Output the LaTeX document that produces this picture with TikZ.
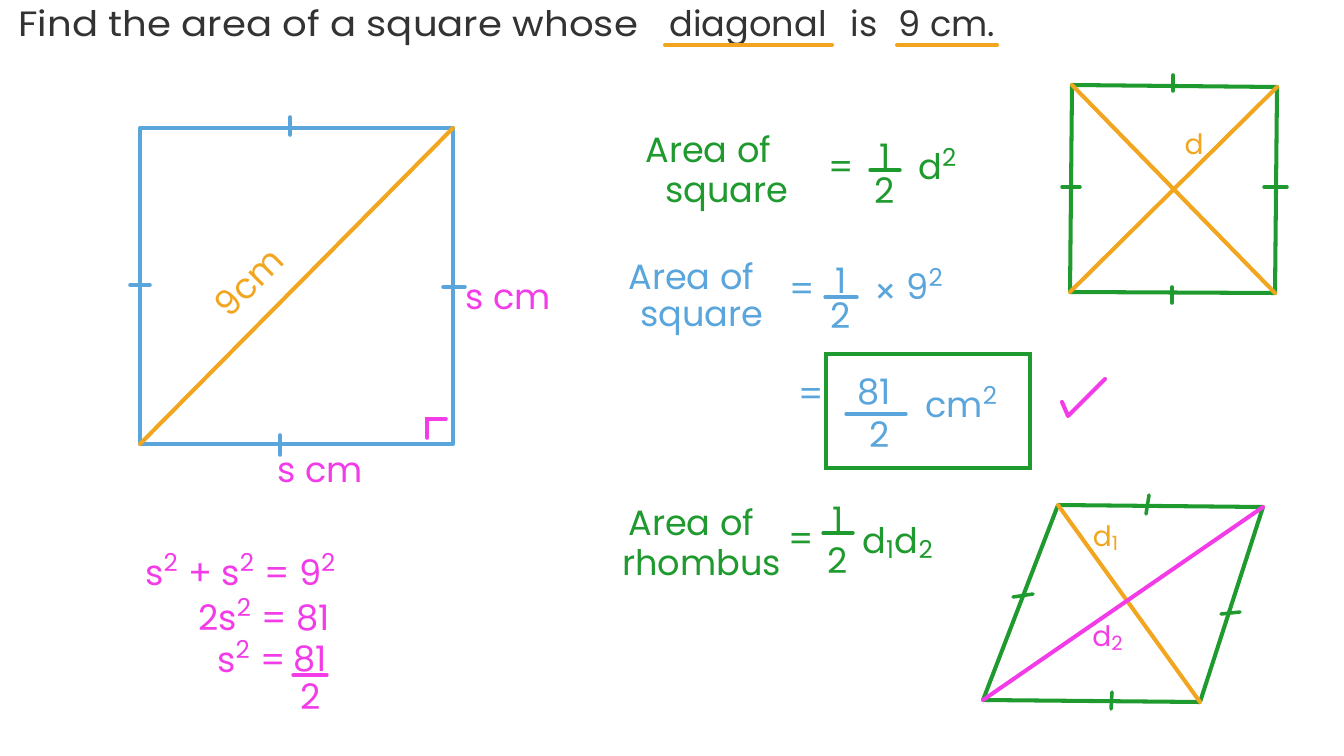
\documentclass[tikz,border=0pt]{standalone}
\usepackage{fontspec}
\setmainfont{Poppins}
\definecolor{ink}{HTML}{333333}
\definecolor{org}{HTML}{F2A51E}
\definecolor{blu}{HTML}{5AA5DC}
\definecolor{grn}{HTML}{1F9A2E}
\definecolor{mag}{HTML}{F23CE8}
\begin{document}
\begin{tikzpicture}[x=0.02cm,y=-0.02cm,
  hand/.style={line width=2.3pt,line cap=round,line join=round},
  tick/.style={line width=2pt,line cap=round},
  fbar/.style={line width=1.9pt,line cap=round},
  txt/.style={inner sep=0pt,font=\fontsize{20}{24}\selectfont},
  small/.style={inner sep=0pt,font=\fontsize{16}{19}\selectfont}]
\useasboundingbox[fill=white] (0,0) rectangle (1344,756);

% ---------- title ----------
\node[txt,text=ink,anchor=base west] (t1) at (18,37) {\scalebox{1.1}[1]{Find the area of a square whose}};
\node[txt,text=ink,anchor=base] (t2) at (748,37) {diagonal};
\node[txt,text=ink,anchor=base] (t3) at (864,37) {is};
\node[txt,text=ink,anchor=base] (t4) at (947,37) {9 cm.};
\coordinate (u1a) at (665,45); \coordinate (u1b) at (832,45);
\coordinate (u2a) at (897,45); \coordinate (u2b) at (997,45);
\draw[hand,org] (u1a) -- (u1b);
\draw[hand,org] (u2a) -- (u2b);

% ---------- left square ----------
\coordinate (A) at (140,444); \coordinate (B) at (453,444);
\coordinate (C) at (453,128); \coordinate (D) at (140,128);
\draw[hand,blu] (A) -- (B) -- (C) -- (D) -- cycle;
\draw[tick,blu] (290,117) -- (290,135);
\draw[tick,blu] (130,285) -- (150,285);
\draw[tick,blu] (443,287) -- (465,287);
\draw[tick,blu] (280,435) -- (280,455);
\draw[hand,org] (A) -- (C);
\node[txt,text=org,rotate=45] (nine) at (249,282) {9cm};
\node[txt,text=mag] (sr) at (508,300) {s cm};
\node[txt,text=mag] (sb) at (320,473) {s cm};
\draw[tick,mag] (427,438) -- (427,419) -- (446,419);

% ---------- left equations ----------
\node[txt,text=mag,anchor=base west] (e1) at (145,585) {s\textsuperscript{2} + s\textsuperscript{2} = 9\textsuperscript{2}};
\node[txt,text=mag,anchor=base west] (e2) at (198,630) {2s\textsuperscript{2} = 81};
\node[txt,text=mag,anchor=base west] (e3) at (217,672) {s\textsuperscript{2} =};
\node[txt,text=mag] (e3n) at (310,659) {81};
\draw[fbar,mag] (293,675) -- (327,675);
\node[txt,text=mag] (e3d) at (311,697) {2};

% ---------- area of square (green) ----------
\node[txt,text=grn,anchor=base west] (g1) at (645,163) {Area of};
\node[txt,text=grn,anchor=base west] (g2) at (665,203) {square};
\node[txt,text=grn] (g3) at (841,171) {=};
\node[txt,text=grn] (g4) at (885,157) {1};
\draw[fbar,grn] (870,170) -- (900,170);
\node[txt,text=grn] (g5) at (885,191) {2};
\node[txt,text=grn,anchor=base west] (g6) at (918,180) {d\textsuperscript{2}};

% ---------- area of square (blue) ----------
\node[txt,text=blu,anchor=base west] (b1) at (628,290) {Area of};
\node[txt,text=blu,anchor=base west] (b2) at (640,327) {square};
\node[txt,text=blu] (b3) at (802,293) {=};
\node[txt,text=blu] (b4) at (841,281) {1};
\draw[fbar,blu] (825,297) -- (857,297);
\node[txt,text=blu] (b5) at (841,316) {2};
\node[txt,text=blu] (b6) at (886,294) {×};
\node[txt,text=blu,anchor=base west] (b7) at (906,300) {9\textsuperscript{2}};

% ---------- result box ----------
\node[txt,text=blu] (r0) at (811,398) {=};
\node[draw=grn,line width=2.3pt,minimum width=204*0.02cm,minimum height=114*0.02cm,inner sep=0pt] (box) at (928,411) {};
\node[txt,text=blu] (r1) at (874,392) {81};
\draw[fbar,blu] (846,414) -- (906,414);
\node[txt,text=blu] (r2) at (880,435) {2};
\node[txt,text=blu,anchor=base west] (r3) at (925,418) {cm\textsuperscript{2}};
\draw[hand,mag] (1062,402) -- (1068,416) -- (1105,379);

% ---------- area of rhombus ----------
\node[txt,text=grn,anchor=base west] (h1) at (628,535) {Area of};
\node[txt,text=grn,anchor=base west] (h2) at (622,575) {rhombus};
\node[txt,text=grn] (h3) at (801,543) {=};
\node[txt,text=grn] (h4) at (838,520) {1};
\draw[fbar,grn] (823,533) -- (853,533);
\node[txt,text=grn] (h5) at (838,561) {2};
\node[txt,text=grn,anchor=base west] (h6) at (862,553) {d\textsubscript{1}d\textsubscript{2}};

% ---------- top right square ----------
\coordinate (P) at (1072,85); \coordinate (Q) at (1277,87);
\coordinate (R) at (1275,293); \coordinate (S) at (1070,292);
\draw[hand,grn] (P) -- (Q) -- (R) -- (S) -- cycle;
\draw[tick,grn] (1173,75) -- (1173,91);
\draw[tick,grn] (1062,187) -- (1080,187);
\draw[tick,grn] (1264,187) -- (1287,187);
\draw[tick,grn] (1172,287) -- (1172,303);
\draw[hand,org] (P) -- (R);
\draw[hand,org] (S) -- (Q);
\node[small,text=org] (dd) at (1194,144) {d};

% ---------- rhombus ----------
\coordinate (W) at (1058,505); \coordinate (X) at (1263,507);
\coordinate (Y) at (1200,702); \coordinate (Z) at (983,700);
\draw[hand,grn] (W) -- (X) -- (Y) -- (Z) -- cycle;
\draw[tick,grn] (1149,495) -- (1146,514);
\draw[tick,grn] (1013,597) -- (1033,594);
\draw[tick,grn] (1221,614) -- (1240,612);
\draw[tick,grn] (1112,692) -- (1111,709);
\draw[hand,org] (W) -- (Y);
\draw[hand,mag] (Z) -- (X);
\node[small,text=org] (d1) at (1106,538) {d\textsubscript{1}};
\node[small,text=mag] (d2) at (1108,638) {d\textsubscript{2}};
\end{tikzpicture}
\end{document}
